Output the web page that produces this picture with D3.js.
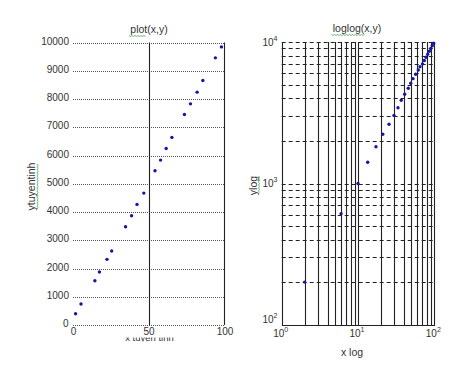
<!DOCTYPE html>
<html><head><meta charset="utf-8">
<script src="https://cdn.jsdelivr.net/npm/d3@7"></script>
<style>
body{margin:0;background:#fff}
svg{display:block}
text{font-family:"Liberation Sans",Arial,sans-serif;fill:#333}
</style>
</head><body>
<svg id="c" width="474" height="373"></svg>
<script>
// ---- data ----
const linX = [1.7,5.3,14.5,17.5,22.5,25.6,34.8,38.8,42.4,46.9,54.3,58,61.7,65.5,73.8,77.8,82.2,86,94.3,98.3];
const linY = [400,743,1567,1875,2324,2618,3478,3866,4269,4669,5458,5837,6250,6640,7453,7829,8242,8656,9456,9845];
const logX = [2,6,10,13.4,17.2,21.1,25.5,29.6,33.4,36.9,40.9,45.6,49.1,52.6,57,61.7,65,70,74,78,82,86,90,94,98];
const logY = [201,612,1000,1413,1820,2228,2620,3030,3433,3873,4270,4709,5106,5506,5916,6343,6690,7000,7400,7800,8200,8600,9000,9400,9800];
const linYTicks = [0,1000,2000,3000,4000,5000,6000,7000,8000,9000,10000];
const linXTicks = [0,50,100];
const linXGrid = [50,100];
const logXTicks = [1,10,100];
const logYTicks = [100,1000,10000];
const titles = ["plot(x,y)","loglog(x,y)"];
const xLabels = ["x tuyen tinh","x log"];
const yLabels = ["ytuyentinh","ylog"];

const svg = d3.select("#c");
const dotColor = "#16169e";

// ---- linear plot ----
const xL = d3.scaleLinear().domain([0,100]).range([73,224]);
const yL = d3.scaleLinear().domain([0,10000]).range([325,42.5]);

const g1 = svg.append("g");
g1.selectAll("line.hg").data(linYTicks).join("line")
  .attr("x1", xL(0)).attr("x2", xL(100))
  .attr("y1", d => Math.round(yL(d))+0.5).attr("y2", d => Math.round(yL(d))+0.5)
  .attr("stroke","#555").attr("stroke-width",1).attr("stroke-dasharray","1,1");
g1.selectAll("line.vg").data(linXGrid).join("line")
  .attr("x1", d => Math.round(xL(d))+0.5).attr("x2", d => Math.round(xL(d))+0.5)
  .attr("y1", yL(10000)).attr("y2", yL(0))
  .attr("stroke","#222").attr("stroke-width",1.1);
g1.selectAll("text.yt").data(linYTicks).join("text")
  .attr("x", d => d===0 ? 68.5 : 69).attr("y", d => yL(d)-1.5)
  .attr("dy","0.35em").attr("text-anchor","end").attr("font-size",10)
  .text(d => d);
g1.selectAll("text.xt").data(linXTicks).join("text")
  .attr("x", d => xL(d) + (d===100 ? 1 : 0.5)).attr("y", 334.5)
  .attr("text-anchor","middle").attr("font-size",10)
  .text(d => d);
g1.selectAll("circle").data(linX).join("circle")
  .attr("cx", (d) => xL(d)).attr("cy", (d,i) => yL(linY[i])).attr("r",1.7)
  .attr("fill", dotColor);

// x label, mostly hidden behind the tick labels as in the reference
svg.append("clipPath").attr("id","xlclip").append("rect")
  .attr("x",100).attr("y",337.6).attr("width",100).attr("height",3.9);
g1.append("text").attr("x",149.5).attr("y",341.3).attr("text-anchor","middle")
  .attr("font-size",9.5).attr("clip-path","url(#xlclip)").text(xLabels[0]);
g1.append("text").attr("x",149).attr("y",33).attr("text-anchor","middle")
  .attr("font-size",10.5).text(titles[0]);
g1.append("text").attr("transform","translate(35,186.5) rotate(-90)")
  .attr("text-anchor","middle").attr("font-size",10.5).text(yLabels[0]);

// green squiggles
function squiggle(x0, x1, y, vertical){
  const pts = d3.range(x0, x1, 1.5).map((v,i) => vertical ? [y + (i%2?1:0), v] : [v, y + (i%2?1:0)]);
  svg.append("path").attr("d", d3.line()(pts)).attr("fill","none")
    .attr("stroke","#49a84a").attr("stroke-width",0.8);
}
squiggle(129,147,35.5,false);
squiggle(164,210,37,true);

// ---- loglog plot ----
const xG = d3.scaleLog().domain([1,100]).range([281.7,434.3]);
const yG = d3.scaleLog().domain([100,10000]).range([325,42]);
const g2 = svg.append("g");
const xMinor = xG.ticks().filter(d => d>1 && d<100);
const yMinor = yG.ticks().filter(d => d>100);

g2.selectAll("line.hg").data(yMinor).join("line")
  .attr("x1", xG(1)).attr("x2", xG(100))
  .attr("y1", d => Math.round(yG(d))+0.5).attr("y2", d => Math.round(yG(d))+0.5)
  .attr("stroke","#222").attr("stroke-width",1.1).attr("stroke-dasharray","4,3");
g2.selectAll("line.vg").data(xMinor).join("line")
  .attr("x1", d => Math.round(xG(d))+0.5).attr("x2", d => Math.round(xG(d))+0.5)
  .attr("y1", yG(10000)).attr("y2", yG(100))
  .attr("stroke","#222").attr("stroke-width",1.1);
g2.append("path")
  .attr("d", `M${Math.round(xG(1))+0.5},${yG(10000)}V${Math.round(yG(100))+0.5}H${Math.round(xG(100))+0.5}V${yG(10000)}`)
  .attr("fill","none").attr("stroke","#222").attr("stroke-width",1.1);

g2.selectAll("circle").data(logX).join("circle")
  .attr("cx", d => xG(d)).attr("cy", (d,i) => yG(logY[i])).attr("r",1.7)
  .attr("fill", dotColor);

const xt = g2.selectAll("text.xt").data(logXTicks).join("text")
  .attr("x", d => xG(d) - 1).attr("y", 336.5).attr("text-anchor","middle").attr("font-size",10);
xt.append("tspan").text("10");
xt.append("tspan").attr("dy",-4.5).attr("font-size",7).text(d => Math.round(Math.log10(d)));

const yt = g2.selectAll("text.yt").data(logYTicks).join("text")
  .attr("x", 277.5).attr("y", d => yG(d) + (d===100 ? -2.5 : 3.5)).attr("text-anchor","end").attr("font-size",10);
yt.append("tspan").text("10");
yt.append("tspan").attr("dy",-5).attr("font-size",7).text(d => Math.round(Math.log10(d)));

g2.append("text").attr("x",357).attr("y",32).attr("text-anchor","middle")
  .attr("font-size",10.5).text(titles[1]);
g2.append("text").attr("x",352).attr("y",355.5).attr("text-anchor","middle")
  .attr("font-size",10.5).text(xLabels[1]);
g2.append("text").attr("transform","translate(257,185.5) rotate(-90)")
  .attr("text-anchor","middle").attr("font-size",10.5).text(yLabels[1]);
squiggle(331.5,365,34.5,false);
squiggle(176,193,258.5,true);
</script>
</body></html>
